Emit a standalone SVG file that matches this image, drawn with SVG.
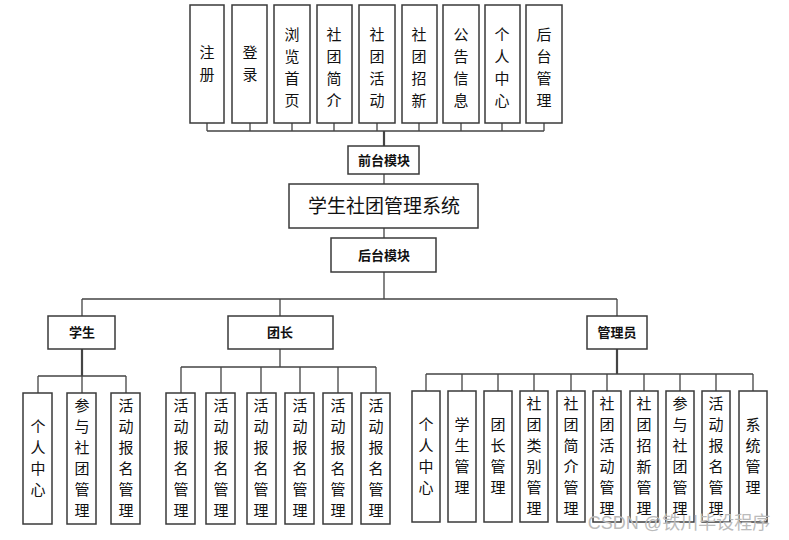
<svg xmlns="http://www.w3.org/2000/svg" width="789" height="540" viewBox="0 0 789 540">
<style>
rect{fill:#fff;stroke:#3a3a3a;stroke-width:1.5}
text{font-family:"Noto Sans CJK SC",sans-serif;fill:#111;text-anchor:middle}
.v{font-size:15px}
.l{font-size:13px;font-weight:bold}
.c path{fill:none;stroke:#444;stroke-width:1.3}
</style>
<rect x="0" y="0" width="789" height="540" style="fill:#fff;stroke:none"/>
<g class="c">
<path d="M207 123V131M250 123V131M292 123V131M334 123V131M377 123V131M419 123V131M461 123V131M502 123V131M544 123V131M207 131H544"/>
<path d="M384 131V146" style="stroke-width:2.2"/>
<path d="M384 174V184M384 228V238M384 272V299M82 299H617M82 299V316M280 299V316M617 299V316"/>
<path d="M82 349V376" style="stroke-width:2.2"/>
<path d="M38 376H126M38 376V393M82 376V393M126 376V393"/>
<path d="M280 349V367M181 367H376M181 367V393M221 367V393M261 367V393M300 367V393M338 367V393M376 367V393"/>
<path d="M617 349V374" style="stroke-width:2.2"/>
<path d="M426 374H753M426 374V391M462 374V391M498 374V391M534 374V391M571 374V391M607 374V391M644 374V391M680 374V391M716 374V391M753 374V391"/>
</g>
<g id="top">
<g id="t1"><rect x="190" y="5" width="34" height="118"/><text class="v"><tspan x="207" y="58">注</tspan><tspan x="207" y="80">册</tspan></text></g>
<g id="t2"><rect x="232" y="5" width="35" height="118"/><text class="v"><tspan x="250" y="58">登</tspan><tspan x="250" y="80">录</tspan></text></g>
<g id="t3"><rect x="274" y="5" width="36" height="118"/><text class="v"><tspan x="292" y="40">浏</tspan><tspan x="292" y="62">览</tspan><tspan x="292" y="84">首</tspan><tspan x="292" y="106">页</tspan></text></g>
<g id="t4"><rect x="317" y="5" width="35" height="118"/><text class="v"><tspan x="334" y="40">社</tspan><tspan x="334" y="62">团</tspan><tspan x="334" y="84">简</tspan><tspan x="334" y="106">介</tspan></text></g>
<g id="t5"><rect x="359" y="5" width="36" height="118"/><text class="v"><tspan x="377" y="40">社</tspan><tspan x="377" y="62">团</tspan><tspan x="377" y="84">活</tspan><tspan x="377" y="106">动</tspan></text></g>
<g id="t6"><rect x="402" y="5" width="35" height="118"/><text class="v"><tspan x="419" y="40">社</tspan><tspan x="419" y="62">团</tspan><tspan x="419" y="84">招</tspan><tspan x="419" y="106">新</tspan></text></g>
<g id="t7"><rect x="443" y="5" width="36" height="118"/><text class="v"><tspan x="461" y="40">公</tspan><tspan x="461" y="62">告</tspan><tspan x="461" y="84">信</tspan><tspan x="461" y="106">息</tspan></text></g>
<g id="t8"><rect x="485" y="5" width="35" height="118"/><text class="v"><tspan x="502" y="40">个</tspan><tspan x="502" y="62">人</tspan><tspan x="502" y="84">中</tspan><tspan x="502" y="106">心</tspan></text></g>
<g id="t9"><rect x="526" y="5" width="36" height="118"/><text class="v"><tspan x="544" y="40">后</tspan><tspan x="544" y="62">台</tspan><tspan x="544" y="84">管</tspan><tspan x="544" y="106">理</tspan></text></g>
</g>
<g id="front"><rect x="348" y="146" width="71" height="28"/><text class="l" x="384" y="165">前台模块</text></g>
<g id="sys"><rect x="289" y="184" width="189" height="44"/><text x="384" y="213" style="font-size:19px">学生社团管理系统</text></g>
<g id="back"><rect x="331" y="238" width="105" height="34"/><text class="l" x="384" y="260">后台模块</text></g>
<g id="stu"><rect x="48" y="316" width="67" height="33"/><text class="l" x="82" y="337">学生</text></g>
<g id="lead"><rect x="228" y="316" width="105" height="33"/><text class="l" x="280" y="337">团长</text></g>
<g id="adm"><rect x="587" y="316" width="60" height="33"/><text class="l" x="617" y="337">管理员</text></g>
<g id="s1"><rect x="23" y="393" width="29" height="131"/><text class="v"><tspan x="38" y="432">个</tspan><tspan x="38" y="453">人</tspan><tspan x="38" y="474">中</tspan><tspan x="38" y="495">心</tspan></text></g>
<g id="s2"><rect x="67" y="393" width="29" height="131"/><text class="v"><tspan x="82" y="411">参</tspan><tspan x="82" y="432">与</tspan><tspan x="82" y="453">社</tspan><tspan x="82" y="474">团</tspan><tspan x="82" y="495">管</tspan><tspan x="82" y="516">理</tspan></text></g>
<g id="s3"><rect x="111" y="393" width="29" height="131"/><text class="v"><tspan x="126" y="411">活</tspan><tspan x="126" y="432">动</tspan><tspan x="126" y="453">报</tspan><tspan x="126" y="474">名</tspan><tspan x="126" y="495">管</tspan><tspan x="126" y="516">理</tspan></text></g>
<g id="l1"><rect x="166" y="393" width="29" height="131"/><text class="v"><tspan x="181" y="411">活</tspan><tspan x="181" y="432">动</tspan><tspan x="181" y="453">报</tspan><tspan x="181" y="474">名</tspan><tspan x="181" y="495">管</tspan><tspan x="181" y="516">理</tspan></text></g>
<g id="l2"><rect x="206" y="393" width="29" height="131"/><text class="v"><tspan x="221" y="411">活</tspan><tspan x="221" y="432">动</tspan><tspan x="221" y="453">报</tspan><tspan x="221" y="474">名</tspan><tspan x="221" y="495">管</tspan><tspan x="221" y="516">理</tspan></text></g>
<g id="l3"><rect x="247" y="393" width="29" height="131"/><text class="v"><tspan x="261" y="411">活</tspan><tspan x="261" y="432">动</tspan><tspan x="261" y="453">报</tspan><tspan x="261" y="474">名</tspan><tspan x="261" y="495">管</tspan><tspan x="261" y="516">理</tspan></text></g>
<g id="l4"><rect x="285" y="393" width="29" height="131"/><text class="v"><tspan x="300" y="411">活</tspan><tspan x="300" y="432">动</tspan><tspan x="300" y="453">报</tspan><tspan x="300" y="474">名</tspan><tspan x="300" y="495">管</tspan><tspan x="300" y="516">理</tspan></text></g>
<g id="l5"><rect x="323" y="393" width="29" height="131"/><text class="v"><tspan x="338" y="411">活</tspan><tspan x="338" y="432">动</tspan><tspan x="338" y="453">报</tspan><tspan x="338" y="474">名</tspan><tspan x="338" y="495">管</tspan><tspan x="338" y="516">理</tspan></text></g>
<g id="l6"><rect x="361" y="393" width="29" height="131"/><text class="v"><tspan x="376" y="411">活</tspan><tspan x="376" y="432">动</tspan><tspan x="376" y="453">报</tspan><tspan x="376" y="474">名</tspan><tspan x="376" y="495">管</tspan><tspan x="376" y="516">理</tspan></text></g>
<g id="a1"><rect x="412" y="391" width="28" height="131"/><text class="v"><tspan x="426" y="430">个</tspan><tspan x="426" y="451">人</tspan><tspan x="426" y="472">中</tspan><tspan x="426" y="493">心</tspan></text></g>
<g id="a2"><rect x="448" y="391" width="28" height="131"/><text class="v"><tspan x="462" y="430">学</tspan><tspan x="462" y="451">生</tspan><tspan x="462" y="472">管</tspan><tspan x="462" y="493">理</tspan></text></g>
<g id="a3"><rect x="484" y="391" width="28" height="131"/><text class="v"><tspan x="498" y="430">团</tspan><tspan x="498" y="451">长</tspan><tspan x="498" y="472">管</tspan><tspan x="498" y="493">理</tspan></text></g>
<g id="a4"><rect x="520" y="391" width="28" height="131"/><text class="v"><tspan x="534" y="409">社</tspan><tspan x="534" y="430">团</tspan><tspan x="534" y="451">类</tspan><tspan x="534" y="472">别</tspan><tspan x="534" y="493">管</tspan><tspan x="534" y="514">理</tspan></text></g>
<g id="a5"><rect x="557" y="391" width="28" height="131"/><text class="v"><tspan x="571" y="409">社</tspan><tspan x="571" y="430">团</tspan><tspan x="571" y="451">简</tspan><tspan x="571" y="472">介</tspan><tspan x="571" y="493">管</tspan><tspan x="571" y="514">理</tspan></text></g>
<g id="a6"><rect x="593" y="391" width="28" height="131"/><text class="v"><tspan x="607" y="409">社</tspan><tspan x="607" y="430">团</tspan><tspan x="607" y="451">活</tspan><tspan x="607" y="472">动</tspan><tspan x="607" y="493">管</tspan><tspan x="607" y="514">理</tspan></text></g>
<g id="a7"><rect x="630" y="391" width="28" height="131"/><text class="v"><tspan x="644" y="409">社</tspan><tspan x="644" y="430">团</tspan><tspan x="644" y="451">招</tspan><tspan x="644" y="472">新</tspan><tspan x="644" y="493">管</tspan><tspan x="644" y="514">理</tspan></text></g>
<g id="a8"><rect x="666" y="391" width="28" height="131"/><text class="v"><tspan x="680" y="409">参</tspan><tspan x="680" y="430">与</tspan><tspan x="680" y="451">社</tspan><tspan x="680" y="472">团</tspan><tspan x="680" y="493">管</tspan><tspan x="680" y="514">理</tspan></text></g>
<g id="a9"><rect x="702" y="391" width="28" height="131"/><text class="v"><tspan x="716" y="409">活</tspan><tspan x="716" y="430">动</tspan><tspan x="716" y="451">报</tspan><tspan x="716" y="472">名</tspan><tspan x="716" y="493">管</tspan><tspan x="716" y="514">理</tspan></text></g>
<g id="a10"><rect x="739" y="391" width="28" height="131"/><text class="v"><tspan x="753" y="430">系</tspan><tspan x="753" y="451">统</tspan><tspan x="753" y="472">管</tspan><tspan x="753" y="493">理</tspan></text></g>
<text x="679" y="529" style="font-size:18px;fill:#bbb;font-family:'Liberation Sans','Noto Sans CJK SC',sans-serif">CSDN @铁川毕设程序</text>
</svg>
